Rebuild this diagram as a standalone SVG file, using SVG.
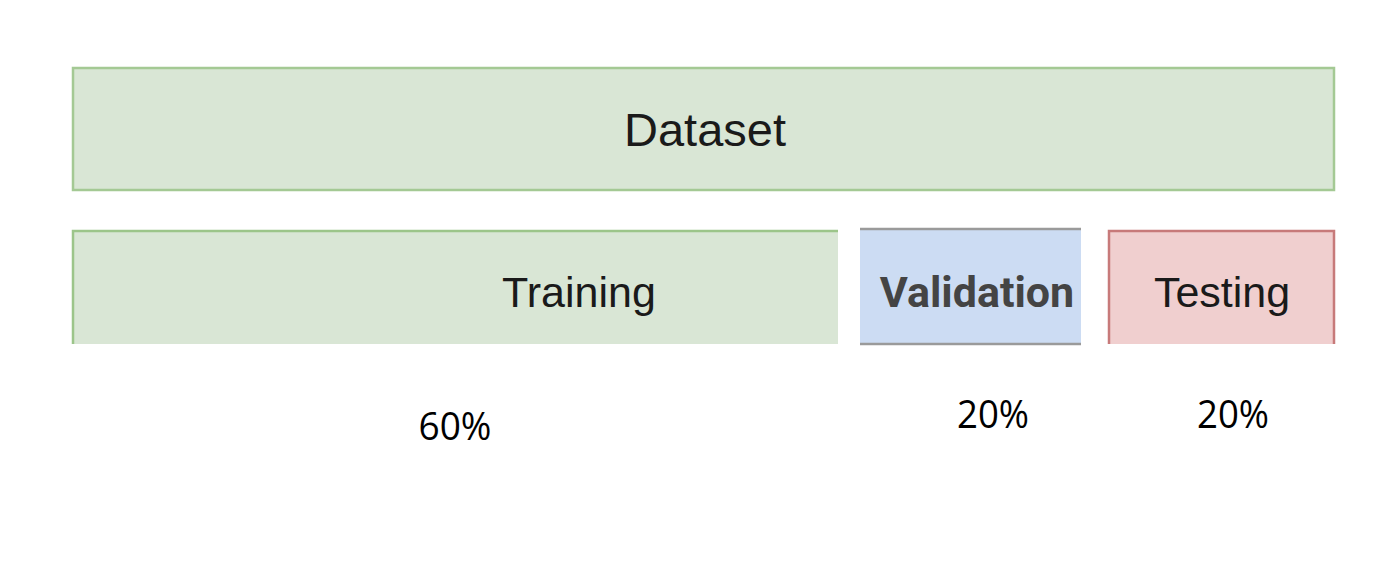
<svg xmlns="http://www.w3.org/2000/svg" width="1400" height="567" viewBox="0 0 1400 567">
<style>
.lbl{font-family:"Liberation Sans",Arial,sans-serif;font-size:43px;fill:#1a1a1a;text-anchor:middle}
.pct{font-family:"Open Sans","Liberation Sans",sans-serif;font-size:38px;fill:#000;text-anchor:middle}
.g{stroke:#9cc58a;stroke-width:2.5;fill:none}
.r{stroke:#c77a7a;stroke-width:2.5;fill:none}
.b{stroke:#9a9a9a;stroke-width:2.5;fill:none}
</style>
<rect width="1400" height="567" fill="#fff"/>
<g id="dataset">
<rect x="73" y="68" width="1261" height="122" fill="#d9e6d5" stroke="#a4c994" stroke-width="2.5"/>
<text class="lbl" x="705" y="146" style="font-size:47px">Dataset</text>
</g>
<g id="training">
<rect x="73" y="231" width="765" height="113" fill="#d9e6d5"/>
<path class="g" d="M73,344 V231 H838"/>
<text class="lbl" x="579" y="307">Training</text>
</g>
<g id="validation">
<rect x="860" y="229" width="221" height="115" fill="#ccdcf3"/>
<path class="b" d="M860,229 H1081 M860,344 H1081"/>
<text class="lbl" x="977" y="307" style="font-family:Roboto,'Liberation Sans',sans-serif;font-weight:bold;fill:#444">Validation</text>
</g>
<g id="testing">
<rect x="1109" y="231" width="225" height="113" fill="#f0cfcf"/>
<path class="r" d="M1109,344 V231 H1334 V344"/>
<text class="lbl" x="1222" y="307">Testing</text>
</g>
<g id="connectors"></g>
<g id="labels">
<text class="pct" x="455" y="440" textLength="73" lengthAdjust="spacingAndGlyphs">60%</text>
<text class="pct" x="993" y="428" textLength="72" lengthAdjust="spacingAndGlyphs">20%</text>
<text class="pct" x="1233" y="428" textLength="72" lengthAdjust="spacingAndGlyphs">20%</text>
</g>
</svg>
